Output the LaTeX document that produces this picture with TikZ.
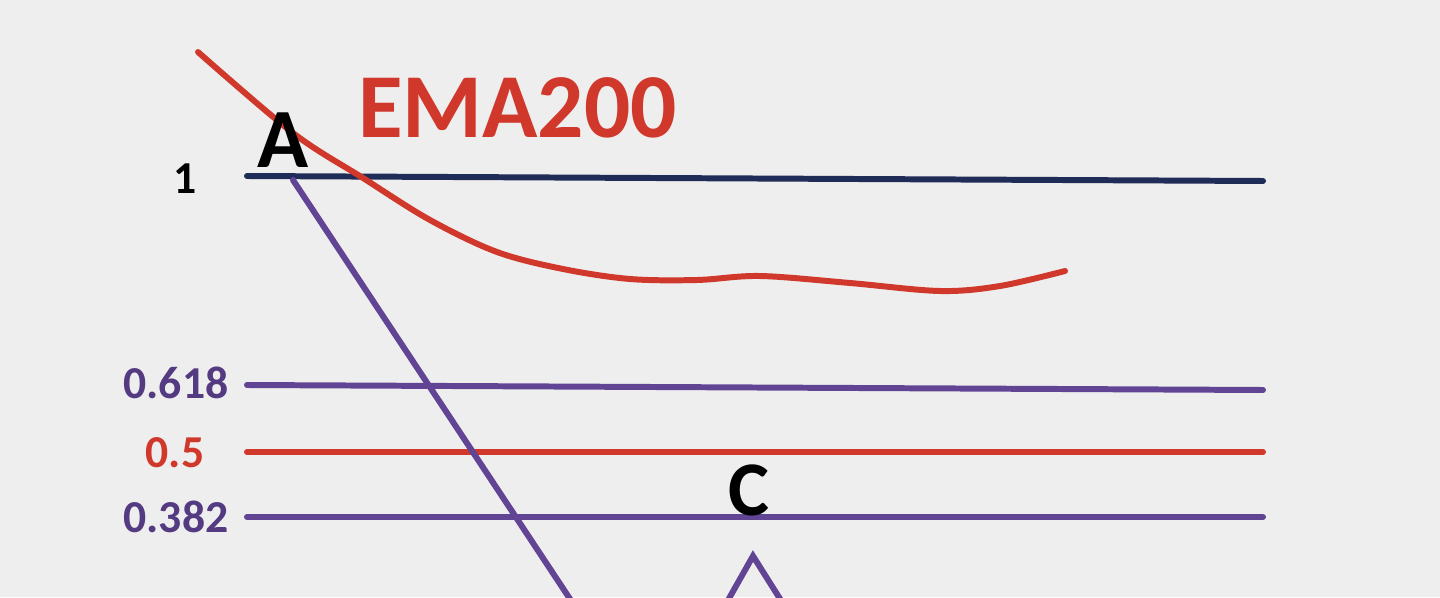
\documentclass[tikz,border=0pt]{standalone}
\usepackage{fontspec}
\setmainfont{Carlito}
\usetikzlibrary{calc}
\definecolor{fondo}{RGB}{238,238,238}
\definecolor{azul}{RGB}{32,44,88}
\definecolor{morado}{RGB}{98,68,148}
\definecolor{moradotxt}{RGB}{84,58,128}
\definecolor{rojo}{RGB}{208,56,44}

\begin{document}
\begin{tikzpicture}[line width=1.7pt,line cap=round,
  etiqueta/.style={anchor=base,inner sep=0pt,font=\bfseries\fontsize{13}{13}\selectfont},
  punto/.style={anchor=base,inner sep=0pt,text=black}]
  \useasboundingbox[fill=fondo] (0,0) rectangle (14.4,5.97);
  % niveles de retroceso
  \foreach \n/\yi/\yf/\c in {uno/4.21/4.16/azul,sesenta/2.12/2.07/morado,medio/1.45/1.45/rojo,treinta/0.80/0.80/morado}{
    \coordinate (\n-i) at (2.47,\yi);
    \coordinate (\n-f) at (12.63,\yf);
    \draw[\c] (\n-i) -- (\n-f);
  }
  \node[etiqueta,text=black] (l-uno) at (1.85,4.04) {1};
  \node[etiqueta,text=moradotxt] (l-sesenta) at (1.76,1.99) {0.618};
  \node[etiqueta,text=rojo] (l-medio) at (1.75,1.30) {0.5};
  \node[etiqueta,text=moradotxt] (l-treinta) at (1.76,0.65) {0.382};
  % media movil
  \draw[rojo] plot[smooth,tension=0.55] coordinates {(1.98,5.45) (2.93,4.64) (3.63,4.19) (4.30,3.77) (4.97,3.45) (5.63,3.28) (6.30,3.18) (6.97,3.17) (7.60,3.21) (8.50,3.14) (9.40,3.06) (10.00,3.11) (10.65,3.26)};
  \node[anchor=base,inner sep=0pt,text=rojo,font=\bfseries\fontsize{26}{26}\selectfont] (ema) at (5.175,4.60) {EMA200};
  % precio: caida desde A y rebote bajo C
  \node[punto,font=\bfseries\fontsize{24}{24}\selectfont] (A) at (2.83,4.29) {A};
  \node[punto,font=\bfseries\fontsize{22}{22}\selectfont] (C) at (7.49,0.82) {C};
  \coordinate (pa) at (2.93,4.17);
  \coordinate (pb) at (5.72,-0.05);
  \coordinate (q1) at (7.27,-0.05);
  \coordinate (q2) at (7.53,0.41);
  \coordinate (q3) at (7.82,-0.05);
  \draw[morado] (pa) -- (pb);
  \draw[morado,line join=miter] (q1) -- (q2) -- (q3);
\end{tikzpicture}
\end{document}
